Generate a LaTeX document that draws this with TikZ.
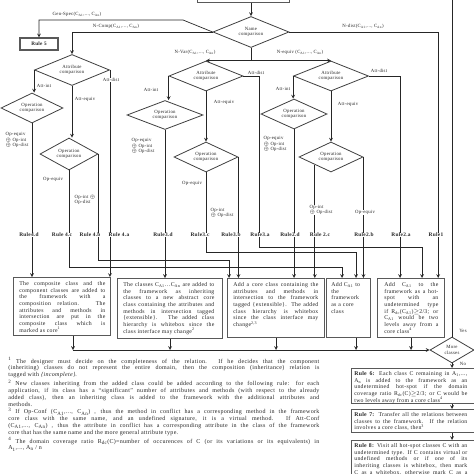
\documentclass[tikz,border=0pt]{standalone}
\usepackage{fontspec}
\setmainfont{Liberation Serif}[LetterSpace=5]
\usetikzlibrary{shapes.geometric,positioning}

\begin{document}
\hyphenpenalty=10000
\tolerance=9999
\begin{tikzpicture}[x=1pt, y=-1pt, line width=0.7pt, black!85,
    decision/.style={diamond, draw=black!75, line width=0.8pt, inner sep=0pt, aspect=2.5, align=center, font=\fontsize{4.8}{5.4}\selectfont},
    panel/.style={draw=black!65, line width=1.2pt, anchor=north west, inner sep=0pt},
    txt/.style={inner sep=0pt, align=justify, font=\fontsize{5.8}{6.7}\selectfont},
    cond/.style={fill=white, inner sep=0.4pt, align=left, font=\fontsize{4.8}{5.6}\selectfont},
    rulename/.style={fill=white, inner sep=0.4pt, font=\bfseries\fontsize{5.4}{6}\selectfont},
    flow/.style={->, >=stealth}]

    % page
    \useasboundingbox (0,0) rectangle (474,474);
    \clip (0,0) rectangle (474,474);
    \fill[white] (0,0) rectangle (474,474);

    % name test
    \node[panel, minimum width=92, minimum height=30, anchor=south west] (start) at (197,3) {};
    \node[decision, minimum width=76, minimum height=31] (NC) at (251,32) {Name\\comparison};
    \node[panel, minimum width=38, minimum height=12, anchor=center, font=\bfseries\fontsize{5.2}{6}\selectfont] (R5) at (39,44) {Rule 5};

    % attribute tests
    \node[decision, minimum width=75, minimum height=31] (A1) at (72,70) {Attribute\\comparison};
    \node[decision, minimum width=74, minimum height=30] (A2) at (206,76) {Attribute\\comparison};
    \node[decision, minimum width=75, minimum height=30] (A3) at (331,76) {Attribute\\comparison};

    % operation tests
    \node[decision, minimum width=62, minimum height=30] (O1) at (32,108) {Operation\\comparison};
    \node[decision, minimum width=58, minimum height=32] (O2) at (69,154) {Operation\\comparison};
    \node[decision, minimum width=76, minimum height=29] (O3) at (165,115) {Operation\\comparison};
    \node[decision, minimum width=64, minimum height=30] (O4) at (206,157) {Operation\\comparison};
    \node[decision, minimum width=66, minimum height=30] (O5) at (294,114) {Operation\\comparison};
    \node[decision, minimum width=64, minimum height=30] (O6) at (331,157) {Operation\\comparison};

    % result boxes
    \node[panel, minimum width=97, minimum height=58] (B1) at (13,277) {};
    \node[panel, minimum width=105, minimum height=60] (B2) at (117,278) {};
    \node[panel, minimum width=97, minimum height=59] (B3) at (227,278) {};
    \node[panel, minimum width=44, minimum height=59] (B4) at (326,278) {};
    \node[panel, minimum width=67, minimum height=59] (B5) at (377,278) {};

    \node[txt, text width=86, anchor=north west] (B1t) at ([xshift=6,yshift=-4]B1.north west) {The composite class and the\linebreak component classes are added to\linebreak the framework with a\linebreak composition relation. The\linebreak attributes and methods in\linebreak intersection are put in the\linebreak composite class which is\linebreak marked as core\textsuperscript{1}};
    \node[txt, text width=91, anchor=north west] (B2t) at ([xshift=6,yshift=-4]B2.north west) {The classes C\textsubscript{A1}\dots C\textsubscript{An} are added to\linebreak the framework as inheriting\linebreak classes to a new abstract core\linebreak class containing the attributes and\linebreak methods in intersection tagged\linebreak \{extensible\}. The added class\linebreak hierarchy is whitebox since the\linebreak class interface may change\textsuperscript{2}};
    \node[txt, text width=85, anchor=north west] (B3t) at ([xshift=6,yshift=-4]B3.north west) {Add a core class containing the\linebreak attributes and methods in\linebreak intersection to the framework\linebreak tagged \{extensible\}. The added\linebreak class hierarchy is whitebox\linebreak since the class interface may\linebreak change\textsuperscript{2,3}};
    \node[txt, text width=33, anchor=north west, align=left] (B4t) at ([xshift=5,yshift=-4]B4.north west) {Add C\textsubscript{A1} to\\the\\framework\\as a core\\class};
    \node[txt, text width=54, anchor=north west] (B5t) at ([xshift=7,yshift=-4]B5.north west) {Add C\textsubscript{A1} to the\linebreak framework as a hot-\linebreak spot with an\linebreak undetermined type\linebreak if R\textsubscript{dc}(C\textsubscript{A1})$\geq$2/3; or\linebreak C\textsubscript{A1} would be two\linebreak levels away from a\linebreak core class\textsuperscript{4}};

    % more classes and last rules
    \node[decision, minimum width=44, minimum height=26] (MC) at (452,350) {More\\classes};
    \node[panel, minimum width=130, minimum height=35] (R6) at (351,368) {};
    \node[panel, minimum width=130, minimum height=23] (R7) at (351,409) {};
    \node[panel, minimum width=130, minimum height=50] (R8) at (351,440) {};
    \node[txt, text width=113, anchor=north west] (R6t) at ([xshift=3,yshift=-3]R6.north west) {\textbf{Rule 6:} Each class C remaining in A\textsubscript{1},...,\linebreak A\textsubscript{n} is added to the framework as an\linebreak undetermined hot-spot if the domain\linebreak coverage ratio R\textsubscript{dc}(C)$\geq$2/3; or C would be\linebreak two levels away from a core class\textsuperscript{4}};
    \node[txt, text width=113, anchor=north west] (R7t) at ([xshift=3,yshift=-3]R7.north west) {\textbf{Rule 7:} Transfer all the relations between\linebreak classes to the framework. If the relation\linebreak involves a core class, then\textsuperscript{3}};
    \node[txt, text width=113, anchor=north west] (R8t) at ([xshift=3,yshift=-3]R8.north west) {\textbf{Rule 8:} Visit all hot-spot classes C with an\linebreak undetermined type. If C contains virtual or\linebreak undefined methods or if one of its\linebreak inheriting classes is whitebox, then mark\linebreak C as a whitebox, otherwise mark C as a\linebreak\mbox{}};

    % footnotes
    \node[txt, font=\fontsize{6}{6.75}\selectfont, text width=311, anchor=north west] (notes) at (8,357) {%
    \textsuperscript{1} The designer must decide on the completeness of the relation. If he decides that the component\linebreak (inheriting) classes do not represent the entire domain, then the composition (inheritance) relation is\linebreak tagged with \textit{\{incomplete\}}.\par\vspace{1pt}
    \textsuperscript{2} New classes inheriting from the added class could be added according to the following rule: for each\linebreak application, if its class has a “significant” number of attributes and methods (with respect to the already\linebreak added class), then an inheriting class is added to the framework with the additional attributes and\linebreak methods.\par\vspace{1pt}
    \textsuperscript{3} If Op-Conf (C\textsubscript{A1},..., C\textsubscript{An}) , thus the method in conflict has a corresponding method in the framework\linebreak core class with the same name, and an undefined signature, it is a virtual method. If Att-Conf\linebreak (C\textsubscript{A1},..., C\textsubscript{An}) , thus the attribute in conflict has a corresponding attribute in the class of the framework\linebreak core that has the same name and the more general attribute type.\par\vspace{1pt}
    \textsuperscript{4} The domain coverage ratio R\textsubscript{dc}(C)=number of occurences of C (or its variations or its equivalents) in\linebreak A\textsubscript{1},..., A\textsubscript{n} / n};

    % connectors from the name test
    \draw[flow] (start.south -| NC.north) -- (NC.north);
    \draw[flow] (NC.west) -- (183,20) -| (R5.north);
    \draw[flow] (NC.west) -| (A1.north);
    \draw[flow] (NC.east) -| ([xshift=-7]B5.north east);
    \draw[flow] (NC.south) |- (A2.north);
    \draw[flow] (NC.south) |- (A3.north);

    % N-Comp branch
    \draw[flow] (A1.west) -- (A1.west |- O1.north);
    \draw[flow] (A1.south) -- (A1.south |- O2.north);
    \draw[flow] (A1.east) -- (A1.east |- B1.north);
    \draw[flow] (O1.south) -- (O1.south |- B1.north);
    \draw[flow] (O2.south) -- (O2.south |- 0,267) -| ([xshift=16]B4.north west);
    \draw[flow] (O2.east) -- (O2.east |- 0,260) -| ([xshift=2]B3.north west);

    % N-Var branch
    \draw[flow] (A2.west) -- (A2.west |- O3.north);
    \draw[flow] (A2.south) -- (O4.north);
    \draw[flow] (A2.east) -| (259,247) -| ([xshift=45]B5.north west);
    \draw[flow] (O3.south) -- (O3.south |- B2.north);
    \draw[flow] (O4.south) -- (O4.south |- 0,252) -| ([xshift=30]B4.north west);
    \draw[flow] (O4.east) -- (O4.east |- B3.north);

    % N-equiv branch
    \draw[flow] (A3.west) -- (A3.west |- O5.north);
    \draw[flow] (A3.south) -- (O6.north);
    \draw[flow] (A3.east) -| ([xshift=23]B5.north west);
    \draw[flow] (O5.south) -- (O5.south |- B3.north);
    \draw[flow] (O6.south west) -- (O6.south west |- B3.north);
    \draw[flow] (O6.east) -- (O6.east |- B4.north);

    % gathering and loop
    \coordinate (merge) at (73,350);
    \draw[flow] (B1.south -| merge) -- (merge);
    \draw[flow] (B2.south) -- (B2.south |- merge);
    \draw[flow] (B3.south) -- (B3.south |- merge);
    \draw[flow] ([xshift=30]B4.south west) -- ([xshift=30]B4.south west |- merge);
    \draw[flow] (B5.south) -- (B5.south |- merge);
    \draw[flow] (merge) -- (MC.west);
    \draw (MC.north) -- (MC.north |- start.north);
    \draw[flow] (MC.south) -- (MC.south |- R6.north);
    \draw[flow] (R6.south -| MC) -- (R7.north -| MC);
    \draw[flow] (R7.south -| MC) -- (R8.north -| MC);

    % conditions
    \node[cond] (gs) at (77,14) {Gen-Spec(C\textsubscript{A1},..., C\textsubscript{An})};
    \node[cond] (ncomp) at (116,26) {N-Comp(C\textsubscript{A1},..., C\textsubscript{An})};
    \node[cond] (ndist) at (363,26) {N-dist(C\textsubscript{A1},..., C\textsubscript{An})};
    \node[cond] (nvar) at (195,52) {N-Var(C\textsubscript{A1},..., C\textsubscript{An})};
    \node[cond] (nequiv) at (300,52) {N-equiv (C\textsubscript{A1},..., C\textsubscript{An})};
    \node[cond] (a1int) at (44,86) {Att-int};
    \node[cond] (a1eq) at (85,99) {Att-equiv};
    \node[cond] (a1dist) at (111,80) {Att-dist};
    \node[cond] (a2int) at (151,90) {Att-int};
    \node[cond] (a2eq) at (224,102) {Att-equiv};
    \node[cond] (a2dist) at (256,73) {Att-dist};
    \node[cond] (a3int) at (283,89) {Att-int};
    \node[cond] (a3eq) at (348,104) {Att-equiv};
    \node[cond] (a3dist) at (379,71) {Att-dist};
    \node[cond] (o1all) at (17,140) {Op-equiv\\ $\oplus$ Op-int\\ $\oplus$ Op-dist};
    \node[cond] (o2eq) at (53,179) {Op-equiv};
    \node[cond] (o2int) at (85,200) {Op-int $\oplus$\\ Op-dist};
    \node[cond] (o3all) at (143,146) {Op-equiv\\ $\oplus$ Op-int\\ $\oplus$ Op-dist};
    \node[cond] (o4eq) at (192,183) {Op-equiv};
    \node[cond] (o4int) at (222,213) {Op-int\\ $\oplus$ Op-dist};
    \node[cond] (o5all) at (275,144) {Op-equiv\\ $\oplus$ Op-int\\ $\oplus$ Op-dist};
    \node[cond] (o6int) at (321,210) {Op-int\\ $\oplus$ Op-dist};
    \node[cond] (o6eq) at (365,212) {Op-equiv};
    \node[cond] (yes) at (463,331) {Yes};
    \node[cond] (no) at (463,364) {No};

    % rule names
    \node[rulename] (r4d) at (29,235) {Rule4.d};
    \node[rulename] (r4c) at (62,235) {Rule 4.c};
    \node[rulename] (r4b) at (90,235) {Rule 4.b};
    \node[rulename] (r4a) at (119,235) {Rule 4.a};
    \node[rulename] (r3d) at (163,235) {Rule3.d};
    \node[rulename] (r3c) at (200,235) {Rule3.c};
    \node[rulename] (r3b) at (231,235) {Rule3.b};
    \node[rulename] (r3a) at (260,235) {Rule3.a};
    \node[rulename] (r2d) at (290,235) {Rule2.d};
    \node[rulename] (r2c) at (320,235) {Rule 2.c};
    \node[rulename] (r2b) at (364,235) {Rule2.b};
    \node[rulename] (r2a) at (401,235) {Rule2.a};
    \node[rulename] (r1) at (436,235) {Rule1};

\end{tikzpicture}
\end{document}
